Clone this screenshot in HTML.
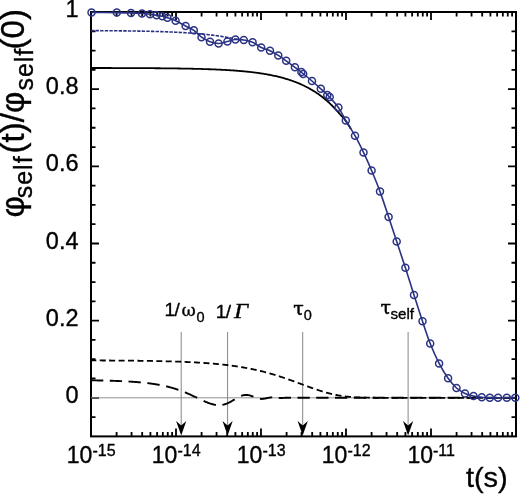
<!DOCTYPE html>
<html><head><meta charset="utf-8"><style>
html,body{margin:0;padding:0;background:#fff;}
svg{display:block;}
svg{font-family:"Liberation Sans",Arial,sans-serif;}
text{stroke:#000;stroke-width:0.35px;}
</style></head><body>
<svg width="520" height="494" viewBox="0 0 520 494">
<rect width="520" height="494" fill="#fff"/>
<path d="M91,417.09h4.5M516,417.09h-4.5M91,397.80h8M516,397.80h-8M91,378.51h4.5M516,378.51h-4.5M91,359.22h4.5M516,359.22h-4.5M91,339.93h4.5M516,339.93h-4.5M91,320.64h8M516,320.64h-8M91,301.35h4.5M516,301.35h-4.5M91,282.06h4.5M516,282.06h-4.5M91,262.77h4.5M516,262.77h-4.5M91,243.48h8M516,243.48h-8M91,224.19h4.5M516,224.19h-4.5M91,204.90h4.5M516,204.90h-4.5M91,185.61h4.5M516,185.61h-4.5M91,166.32h8M516,166.32h-8M91,147.03h4.5M516,147.03h-4.5M91,127.74h4.5M516,127.74h-4.5M91,108.45h4.5M516,108.45h-4.5M91,89.16h8M516,89.16h-8M91,69.87h4.5M516,69.87h-4.5M91,50.58h4.5M516,50.58h-4.5M91,31.29h4.5M516,31.29h-4.5M91,12.00h8M516,12.00h-8M116.59,12v4.5M116.59,436.4v-4.5M131.56,12v4.5M131.56,436.4v-4.5M142.18,12v4.5M142.18,436.4v-4.5M150.41,12v4.5M150.41,436.4v-4.5M157.14,12v4.5M157.14,436.4v-4.5M162.83,12v4.5M162.83,436.4v-4.5M167.76,12v4.5M167.76,436.4v-4.5M172.11,12v4.5M172.11,436.4v-4.5M176.00,12v8M176.00,436.4v-8M201.59,12v4.5M201.59,436.4v-4.5M216.56,12v4.5M216.56,436.4v-4.5M227.18,12v4.5M227.18,436.4v-4.5M235.41,12v4.5M235.41,436.4v-4.5M242.14,12v4.5M242.14,436.4v-4.5M247.83,12v4.5M247.83,436.4v-4.5M252.76,12v4.5M252.76,436.4v-4.5M257.11,12v4.5M257.11,436.4v-4.5M261.00,12v8M261.00,436.4v-8M286.59,12v4.5M286.59,436.4v-4.5M301.56,12v4.5M301.56,436.4v-4.5M312.18,12v4.5M312.18,436.4v-4.5M320.41,12v4.5M320.41,436.4v-4.5M327.14,12v4.5M327.14,436.4v-4.5M332.83,12v4.5M332.83,436.4v-4.5M337.76,12v4.5M337.76,436.4v-4.5M342.11,12v4.5M342.11,436.4v-4.5M346.00,12v8M346.00,436.4v-8M371.59,12v4.5M371.59,436.4v-4.5M386.56,12v4.5M386.56,436.4v-4.5M397.18,12v4.5M397.18,436.4v-4.5M405.41,12v4.5M405.41,436.4v-4.5M412.14,12v4.5M412.14,436.4v-4.5M417.83,12v4.5M417.83,436.4v-4.5M422.76,12v4.5M422.76,436.4v-4.5M427.11,12v4.5M427.11,436.4v-4.5M431.00,12v8M431.00,436.4v-8M456.59,12v4.5M456.59,436.4v-4.5M471.56,12v4.5M471.56,436.4v-4.5M482.18,12v4.5M482.18,436.4v-4.5M490.41,12v4.5M490.41,436.4v-4.5M497.14,12v4.5M497.14,436.4v-4.5M502.83,12v4.5M502.83,436.4v-4.5M507.76,12v4.5M507.76,436.4v-4.5M512.11,12v4.5M512.11,436.4v-4.5" stroke="#000" stroke-width="1.8" fill="none"/>
<rect x="91" y="12" width="425" height="424.4" fill="none" stroke="#000" stroke-width="2"/>
<line x1="91" y1="397.8" x2="516" y2="397.8" stroke="#8f8f8f" stroke-width="1"/>
<line x1="181.2" y1="332" x2="181.2" y2="426" stroke="#858585" stroke-width="1"/>
<path d="M176.1,421 L181.2,435.6 L186.3,421 L181.2,425.4 Z" fill="#000"/>
<line x1="227.6" y1="332" x2="227.6" y2="426" stroke="#858585" stroke-width="1"/>
<path d="M222.5,421 L227.6,435.6 L232.7,421 L227.6,425.4 Z" fill="#000"/>
<line x1="302.7" y1="332" x2="302.7" y2="426" stroke="#858585" stroke-width="1"/>
<path d="M297.6,421 L302.7,435.6 L307.8,421 L302.7,425.4 Z" fill="#000"/>
<line x1="408.1" y1="332" x2="408.1" y2="426" stroke="#858585" stroke-width="1"/>
<path d="M403.0,421 L408.1,435.6 L413.2,421 L408.1,425.4 Z" fill="#000"/>
<path d="M91.00,360.43 L91.50,360.43 L92.00,360.43 L92.50,360.44 L93.00,360.44 L93.50,360.44 L94.00,360.44 L94.50,360.44 L95.00,360.45 L95.50,360.45 L96.00,360.45 L96.30,360.45M99.73,360.47 L100.23,360.47 L100.73,360.47 L101.23,360.47 L101.73,360.47 L102.23,360.48 L102.73,360.48 L103.23,360.48 L103.73,360.48 L104.23,360.49 L104.73,360.49 L105.23,360.49 L105.73,360.49M109.16,360.51 L109.66,360.52 L110.16,360.52 L110.66,360.52 L111.16,360.53 L111.66,360.53 L112.16,360.53 L112.66,360.53 L113.16,360.54 L113.66,360.54 L114.16,360.54 L114.66,360.55 L115.16,360.55M118.59,360.57 L119.09,360.58 L119.59,360.58 L120.09,360.59 L120.59,360.59 L121.09,360.59 L121.59,360.60 L122.09,360.60 L122.59,360.61 L123.09,360.61 L123.59,360.61 L124.09,360.62 L124.59,360.62M128.02,360.65 L128.52,360.66 L129.02,360.66 L129.52,360.67 L130.02,360.67 L130.52,360.68 L131.02,360.68 L131.52,360.69 L132.02,360.69 L132.52,360.70 L133.02,360.70 L133.52,360.71 L134.02,360.72M137.45,360.76 L137.95,360.76 L138.45,360.77 L138.95,360.77 L139.45,360.78 L139.95,360.79 L140.45,360.79 L140.95,360.80 L141.45,360.81 L141.95,360.81 L142.45,360.82 L142.95,360.83 L143.45,360.83M146.88,360.89 L147.38,360.89 L147.88,360.90 L148.38,360.91 L148.88,360.92 L149.38,360.93 L149.88,360.93 L150.38,360.94 L150.88,360.95 L151.38,360.96 L151.88,360.97 L152.38,360.98 L152.88,360.99M156.31,361.05 L156.81,361.06 L157.31,361.07 L157.81,361.08 L158.31,361.09 L158.81,361.11 L159.31,361.12 L159.81,361.13 L160.31,361.14 L160.81,361.15 L161.31,361.16 L161.81,361.17 L162.31,361.18M165.74,361.27 L166.24,361.28 L166.74,361.29 L167.24,361.31 L167.74,361.32 L168.24,361.33 L168.74,361.35 L169.24,361.36 L169.74,361.38 L170.24,361.39 L170.74,361.41 L171.24,361.42 L171.74,361.44M175.17,361.54 L175.67,361.56 L176.17,361.58 L176.67,361.59 L177.17,361.61 L177.67,361.63 L178.17,361.65 L178.67,361.66 L179.17,361.68 L179.67,361.70 L180.17,361.72 L180.67,361.74 L181.17,361.76M184.60,361.90 L185.10,361.92 L185.60,361.94 L186.10,361.96 L186.60,361.98 L187.10,362.00 L187.60,362.03 L188.10,362.05 L188.60,362.07 L189.10,362.10 L189.60,362.12 L190.10,362.14 L190.60,362.17M194.03,362.34 L194.53,362.37 L195.03,362.40 L195.53,362.43 L196.03,362.45 L196.53,362.48 L197.03,362.51 L197.53,362.54 L198.03,362.57 L198.53,362.60 L199.03,362.63 L199.53,362.66 L200.03,362.69M203.46,362.91 L203.96,362.95 L204.46,362.98 L204.96,363.02 L205.46,363.05 L205.96,363.09 L206.46,363.12 L206.96,363.16 L207.46,363.20 L207.96,363.24 L208.46,363.27 L208.96,363.31 L209.46,363.35M212.89,363.63 L213.39,363.68 L213.89,363.72 L214.39,363.76 L214.89,363.81 L215.39,363.85 L215.89,363.90 L216.39,363.95 L216.89,363.99 L217.39,364.04 L217.89,364.09 L218.39,364.14 L218.89,364.19M222.32,364.54 L222.82,364.59 L223.32,364.65 L223.82,364.71 L224.32,364.76 L224.82,364.82 L225.32,364.88 L225.82,364.93 L226.32,364.99 L226.82,365.05 L227.32,365.11 L227.82,365.17 L228.32,365.23M231.75,365.67 L232.25,365.74 L232.75,365.81 L233.25,365.88 L233.75,365.95 L234.25,366.02 L234.75,366.09 L235.25,366.16 L235.75,366.24 L236.25,366.31 L236.75,366.38 L237.25,366.46 L237.75,366.53M241.18,367.08 L241.68,367.16 L242.18,367.25 L242.68,367.33 L243.18,367.42 L243.68,367.50 L244.18,367.59 L244.68,367.68 L245.18,367.77 L245.68,367.86 L246.18,367.95 L246.68,368.04 L247.18,368.14M250.61,368.80 L251.11,368.90 L251.61,369.00 L252.11,369.11 L252.61,369.21 L253.11,369.32 L253.61,369.42 L254.11,369.53 L254.61,369.64 L255.11,369.75 L255.61,369.86 L256.11,369.97 L256.61,370.08M260.04,370.88 L260.54,371.00 L261.04,371.12 L261.54,371.24 L262.04,371.37 L262.54,371.49 L263.04,371.62 L263.54,371.74 L264.04,371.87 L264.54,372.00 L265.04,372.13 L265.54,372.26 L266.04,372.40M269.47,373.34 L269.97,373.48 L270.47,373.62 L270.97,373.76 L271.47,373.91 L271.97,374.05 L272.47,374.20 L272.97,374.35 L273.47,374.50 L273.97,374.65 L274.47,374.80 L274.97,374.95 L275.47,375.10M278.90,376.18 L279.40,376.34 L279.90,376.50 L280.40,376.66 L280.90,376.83 L281.40,376.99 L281.90,377.16 L282.40,377.32 L282.90,377.49 L283.40,377.66 L283.90,377.83 L284.40,378.00 L284.90,378.17M288.33,379.36 L288.83,379.54 L289.33,379.71 L289.83,379.89 L290.33,380.07 L290.83,380.25 L291.33,380.43 L291.83,380.61 L292.33,380.79 L292.83,380.97 L293.33,381.15 L293.83,381.34 L294.33,381.52M297.76,382.78 L298.26,382.97 L298.76,383.15 L299.26,383.34 L299.76,383.52 L300.26,383.71 L300.76,383.89 L301.26,384.08 L301.76,384.26 L302.26,384.45 L302.76,384.64 L303.26,384.82 L303.76,385.01M307.19,386.27 L307.69,386.45 L308.19,386.64 L308.69,386.82 L309.19,387.00 L309.69,387.18 L310.19,387.36 L310.69,387.54 L311.19,387.72 L311.69,387.90 L312.19,388.07 L312.69,388.25 L313.19,388.42M316.62,389.60 L317.12,389.77 L317.62,389.94 L318.12,390.10 L318.62,390.26 L319.12,390.43 L319.62,390.59 L320.12,390.75 L320.62,390.90 L321.12,391.06 L321.62,391.21 L322.12,391.37 L322.62,391.52M326.05,392.52 L326.55,392.66 L327.05,392.79 L327.55,392.93 L328.05,393.06 L328.55,393.19 L329.05,393.32 L329.55,393.45 L330.05,393.57 L330.55,393.70 L331.05,393.82 L331.55,393.94 L332.05,394.05M335.48,394.80 L335.98,394.90 L336.48,395.00 L336.98,395.10 L337.48,395.19 L337.98,395.29 L338.48,395.38 L338.98,395.46 L339.48,395.55 L339.98,395.64 L340.48,395.72 L340.98,395.80 L341.48,395.88M344.91,396.36 L345.41,396.42 L345.91,396.48 L346.41,396.54 L346.91,396.59 L347.41,396.65 L347.91,396.70 L348.41,396.75 L348.91,396.80 L349.41,396.85 L349.91,396.90 L350.41,396.94 L350.91,396.98M354.34,397.24 L354.84,397.27 L355.34,397.30 L355.84,397.33 L356.34,397.35 L356.84,397.38 L357.34,397.40 L357.84,397.43 L358.34,397.45 L358.84,397.47 L359.34,397.49 L359.84,397.51 L360.34,397.53M363.77,397.63 L364.27,397.64 L364.77,397.66 L365.27,397.67 L365.77,397.68 L366.27,397.69 L366.77,397.69 L367.27,397.70 L367.77,397.71 L368.27,397.72 L368.77,397.72 L369.27,397.73 L369.77,397.74M373.20,397.76 L373.70,397.77 L374.20,397.77 L374.70,397.77 L375.20,397.78 L375.70,397.78 L376.20,397.78 L376.70,397.78 L377.20,397.78 L377.70,397.79 L378.20,397.79 L378.70,397.79 L379.20,397.79M382.63,397.80 L383.13,397.80 L383.63,397.80 L384.13,397.80 L384.63,397.80 L385.13,397.80 L385.63,397.80 L386.13,397.80 L386.63,397.80 L387.13,397.80 L387.63,397.80 L388.13,397.80 L388.63,397.80M392.06,397.80 L392.56,397.80 L393.06,397.80 L393.56,397.80 L394.06,397.80 L394.56,397.80 L395.06,397.80 L395.56,397.80 L396.06,397.80 L396.56,397.80 L397.06,397.80 L397.56,397.80 L398.06,397.80M401.49,397.80 L401.99,397.80 L402.49,397.80 L402.99,397.80 L403.49,397.80 L403.99,397.80 L404.49,397.80 L404.99,397.80 L405.49,397.80 L405.99,397.80 L406.49,397.80 L406.99,397.80 L407.49,397.80M410.92,397.80 L411.42,397.80 L411.92,397.80 L412.42,397.80 L412.92,397.80 L413.42,397.80 L413.92,397.80 L414.42,397.80 L414.92,397.80 L415.42,397.80 L415.92,397.80 L416.42,397.80 L416.92,397.80M420.35,397.80 L420.85,397.80 L421.35,397.80 L421.85,397.80 L422.35,397.80 L422.85,397.80 L423.35,397.80 L423.85,397.80 L424.35,397.80 L424.85,397.80 L425.35,397.80 L425.85,397.80 L426.35,397.80M429.78,397.80 L430.28,397.80 L430.78,397.80 L431.28,397.80 L431.78,397.80 L432.28,397.80 L432.78,397.80 L433.28,397.80 L433.78,397.80 L434.28,397.80 L434.78,397.80 L435.28,397.80 L435.78,397.80M439.21,397.80 L439.71,397.80 L440.21,397.80 L440.71,397.80 L441.21,397.80 L441.71,397.80 L442.21,397.80 L442.71,397.80 L443.21,397.80 L443.71,397.80 L444.21,397.80 L444.71,397.80 L445.21,397.80M448.64,397.80 L449.14,397.80 L449.64,397.80 L450.14,397.80 L450.64,397.80 L451.14,397.80 L451.64,397.80 L452.14,397.80 L452.64,397.80 L453.14,397.80 L453.64,397.80 L454.14,397.80 L454.64,397.80M458.07,397.80 L458.57,397.80 L459.07,397.80 L459.57,397.80 L460.07,397.80 L460.57,397.80 L461.07,397.80 L461.57,397.80 L462.07,397.80 L462.57,397.80 L463.07,397.80 L463.57,397.80 L464.07,397.80M467.50,397.80 L468.00,397.80 L468.50,397.80 L469.00,397.80 L469.50,397.80 L470.00,397.80 L470.50,397.80 L471.00,397.80 L471.50,397.80 L472.00,397.80 L472.50,397.80 L473.00,397.80 L473.50,397.80M476.93,397.80 L477.43,397.80 L477.93,397.80 L478.43,397.80 L478.93,397.80 L479.43,397.80 L479.93,397.80 L480.43,397.80 L480.93,397.80 L481.43,397.80 L481.93,397.80 L482.43,397.80 L482.93,397.80M486.36,397.80 L486.86,397.80 L487.36,397.80 L487.86,397.80 L488.36,397.80 L488.86,397.80 L489.36,397.80 L489.86,397.80 L490.36,397.80 L490.86,397.80 L491.36,397.80 L491.86,397.80 L492.36,397.80M495.79,397.80 L496.29,397.80 L496.79,397.80 L497.29,397.80 L497.79,397.80 L498.29,397.80 L498.79,397.80 L499.29,397.80 L499.79,397.80 L500.29,397.80 L500.79,397.80 L501.29,397.80 L501.79,397.80M505.22,397.80 L505.72,397.80 L506.22,397.80 L506.72,397.80 L507.22,397.80 L507.72,397.80 L508.22,397.80 L508.72,397.80 L509.22,397.80 L509.72,397.80 L510.22,397.80 L510.72,397.80 L511.22,397.80M514.65,397.80 L515.15,397.80 L515.65,397.80 L516.00,397.80" fill="none" stroke="#000" stroke-width="1.8"/>
<path d="M91.00,380.31 L91.50,380.32 L92.00,380.33 L92.50,380.33 L93.00,380.34 L93.50,380.35 L94.00,380.36 L94.50,380.37 L95.00,380.38 L95.50,380.39 L96.00,380.40 L96.50,380.41 L97.00,380.42 L97.50,380.43 L98.00,380.44 L98.50,380.45 L99.00,380.46 L99.50,380.47 L100.00,380.48 L100.50,380.49 L101.00,380.50 L101.50,380.51 L102.00,380.52 L102.50,380.53 L103.00,380.54 L103.30,380.55M109.77,380.72 L110.27,380.74 L110.77,380.75 L111.27,380.77 L111.77,380.79 L112.27,380.80 L112.77,380.82 L113.27,380.84 L113.77,380.85 L114.27,380.87 L114.77,380.89 L115.27,380.91 L115.77,380.92 L116.27,380.94 L116.77,380.96 L117.27,380.98 L117.77,381.00 L118.27,381.02 L118.77,381.04 L119.27,381.06 L119.77,381.08 L120.27,381.10 L120.77,381.13 L121.27,381.15 L121.77,381.17 L122.07,381.18M128.54,381.52 L129.04,381.55 L129.54,381.58 L130.04,381.61 L130.54,381.64 L131.04,381.67 L131.54,381.71 L132.04,381.74 L132.54,381.77 L133.04,381.81 L133.54,381.84 L134.04,381.88 L134.54,381.91 L135.04,381.95 L135.54,381.99 L136.04,382.03 L136.54,382.07 L137.04,382.11 L137.54,382.15 L138.04,382.19 L138.54,382.23 L139.04,382.27 L139.54,382.32 L140.04,382.36 L140.54,382.41 L140.84,382.43M147.31,383.11 L147.81,383.17 L148.31,383.23 L148.81,383.29 L149.31,383.36 L149.81,383.42 L150.31,383.49 L150.81,383.55 L151.31,383.62 L151.81,383.69 L152.31,383.76 L152.81,383.83 L153.31,383.90 L153.81,383.98 L154.31,384.05 L154.81,384.13 L155.31,384.21 L155.81,384.29 L156.31,384.37 L156.81,384.45 L157.31,384.54 L157.81,384.62 L158.31,384.71 L158.81,384.80 L159.31,384.89 L159.61,384.95M166.08,386.30 L166.58,386.42 L167.08,386.54 L167.58,386.66 L168.08,386.78 L168.58,386.91 L169.08,387.04 L169.58,387.17 L170.08,387.30 L170.58,387.43 L171.08,387.57 L171.58,387.71 L172.08,387.85 L172.58,388.00 L173.08,388.14 L173.58,388.29 L174.08,388.44 L174.58,388.59 L175.08,388.75 L175.58,388.91 L176.08,389.07 L176.58,389.23 L177.08,389.40 L177.58,389.56 L178.08,389.73 L178.38,389.84M184.85,392.28 L185.35,392.49 L185.85,392.69 L186.35,392.90 L186.85,393.12 L187.35,393.33 L187.85,393.55 L188.35,393.76 L188.85,393.99 L189.35,394.21 L189.85,394.43 L190.35,394.66 L190.85,394.89 L191.35,395.12 L191.85,395.35 L192.35,395.58 L192.85,395.81 L193.35,396.05 L193.85,396.29 L194.35,396.52 L194.85,396.76 L195.35,397.00 L195.85,397.24 L196.35,397.48 L196.85,397.72 L197.15,397.87M203.62,400.93 L204.12,401.16 L204.62,401.38 L205.12,401.60 L205.62,401.82 L206.12,402.03 L206.62,402.23 L207.12,402.44 L207.62,402.64 L208.12,402.83 L208.62,403.02 L209.12,403.20 L209.62,403.38 L210.12,403.55 L210.62,403.71 L211.12,403.87 L211.62,404.01 L212.12,404.16 L212.62,404.29 L213.12,404.41 L213.62,404.53 L214.12,404.64 L214.62,404.73 L215.12,404.82 L215.62,404.90 L215.92,404.94M222.39,404.83 L222.89,404.74 L223.39,404.63 L223.89,404.51 L224.39,404.37 L224.89,404.22 L225.39,404.06 L225.89,403.89 L226.39,403.71 L226.89,403.51 L227.39,403.31 L227.89,403.09 L228.39,402.86 L228.89,402.62 L229.39,402.37 L229.89,402.12 L230.39,401.85 L230.89,401.58 L231.39,401.30 L231.89,401.01 L232.39,400.72 L232.89,400.43 L233.39,400.13 L233.89,399.83 L234.39,399.53 L234.69,399.34M241.16,395.93 L241.66,395.74 L242.16,395.58 L242.66,395.43 L243.16,395.29 L243.66,395.18 L244.16,395.09 L244.66,395.02 L245.16,394.96 L245.66,394.93 L246.16,394.92 L246.66,394.93 L247.16,394.96 L247.66,395.01 L248.16,395.08 L248.66,395.17 L249.16,395.28 L249.66,395.40 L250.16,395.54 L250.66,395.70 L251.16,395.86 L251.66,396.04 L252.16,396.23 L252.66,396.42 L253.16,396.62 L253.46,396.74M259.93,398.81 L260.43,398.87 L260.93,398.91 L261.43,398.93 L261.93,398.93 L262.43,398.91 L262.93,398.87 L263.43,398.82 L263.93,398.75 L264.43,398.67 L264.93,398.58 L265.43,398.48 L265.93,398.37 L266.43,398.26 L266.93,398.15 L267.43,398.03 L267.93,397.92 L268.43,397.82 L268.93,397.72 L269.43,397.63 L269.93,397.55 L270.43,397.49 L270.93,397.43 L271.43,397.39 L271.93,397.37 L272.23,397.36M278.70,397.88 L279.20,397.92 L279.70,397.94 L280.20,397.96 L280.70,397.97 L281.20,397.97 L281.70,397.97 L282.20,397.95 L282.70,397.93 L283.20,397.91 L283.70,397.88 L284.20,397.85 L284.70,397.82 L285.20,397.80 L285.70,397.78 L286.20,397.76 L286.70,397.74 L287.20,397.74 L287.70,397.73 L288.20,397.73 L288.70,397.74 L289.20,397.75 L289.70,397.76 L290.20,397.77 L290.70,397.78 L291.00,397.79M297.47,397.79 L297.97,397.79 L298.47,397.79 L298.97,397.79 L299.47,397.79 L299.97,397.79 L300.47,397.80 L300.97,397.80 L301.47,397.80 L301.97,397.80 L302.47,397.80 L302.97,397.80 L303.47,397.80 L303.97,397.80 L304.47,397.80 L304.97,397.80 L305.47,397.80 L305.97,397.80 L306.47,397.80 L306.97,397.80 L307.47,397.80 L307.97,397.80 L308.47,397.80 L308.97,397.80 L309.47,397.80 L309.77,397.80M316.24,397.80 L316.74,397.80 L317.24,397.80 L317.74,397.80 L318.24,397.80 L318.74,397.80 L319.24,397.80 L319.74,397.80 L320.24,397.80 L320.74,397.80 L321.24,397.80 L321.74,397.80 L322.24,397.80 L322.74,397.80 L323.24,397.80 L323.74,397.80 L324.24,397.80 L324.74,397.80 L325.24,397.80 L325.74,397.80 L326.24,397.80 L326.74,397.80 L327.24,397.80 L327.74,397.80 L328.24,397.80 L328.54,397.80M335.01,397.80 L335.51,397.80 L336.01,397.80 L336.51,397.80 L337.01,397.80 L337.51,397.80 L338.01,397.80 L338.51,397.80 L339.01,397.80 L339.51,397.80 L340.01,397.80 L340.51,397.80 L341.01,397.80 L341.51,397.80 L342.01,397.80 L342.51,397.80 L343.01,397.80 L343.51,397.80 L344.01,397.80 L344.51,397.80 L345.01,397.80 L345.51,397.80 L346.01,397.80 L346.51,397.80 L347.01,397.80 L347.31,397.80M353.78,397.80 L354.28,397.80 L354.78,397.80 L355.28,397.80 L355.78,397.80 L356.28,397.80 L356.78,397.80 L357.28,397.80 L357.78,397.80 L358.28,397.80 L358.78,397.80 L359.28,397.80 L359.78,397.80 L360.28,397.80 L360.78,397.80 L361.28,397.80 L361.78,397.80 L362.28,397.80 L362.78,397.80 L363.28,397.80 L363.78,397.80 L364.28,397.80 L364.78,397.80 L365.28,397.80 L365.78,397.80 L366.08,397.80M372.55,397.80 L373.05,397.80 L373.55,397.80 L374.05,397.80 L374.55,397.80 L375.05,397.80 L375.55,397.80 L376.05,397.80 L376.55,397.80 L377.05,397.80 L377.55,397.80 L378.05,397.80 L378.55,397.80 L379.05,397.80 L379.55,397.80 L380.05,397.80 L380.55,397.80 L381.05,397.80 L381.55,397.80 L382.05,397.80 L382.55,397.80 L383.05,397.80 L383.55,397.80 L384.05,397.80 L384.55,397.80 L384.85,397.80M391.32,397.80 L391.82,397.80 L392.32,397.80 L392.82,397.80 L393.32,397.80 L393.82,397.80 L394.32,397.80 L394.82,397.80 L395.32,397.80 L395.82,397.80 L396.32,397.80 L396.82,397.80 L397.32,397.80 L397.82,397.80 L398.32,397.80 L398.82,397.80 L399.32,397.80 L399.82,397.80 L400.32,397.80 L400.82,397.80 L401.32,397.80 L401.82,397.80 L402.32,397.80 L402.82,397.80 L403.32,397.80 L403.62,397.80M410.09,397.80 L410.59,397.80 L411.09,397.80 L411.59,397.80 L412.09,397.80 L412.59,397.80 L413.09,397.80 L413.59,397.80 L414.09,397.80 L414.59,397.80 L415.09,397.80 L415.59,397.80 L416.09,397.80 L416.59,397.80 L417.09,397.80 L417.59,397.80 L418.09,397.80 L418.59,397.80 L419.09,397.80 L419.59,397.80 L420.09,397.80 L420.59,397.80 L421.09,397.80 L421.59,397.80 L422.09,397.80 L422.39,397.80M428.86,397.80 L429.36,397.80 L429.86,397.80 L430.36,397.80 L430.86,397.80 L431.36,397.80 L431.86,397.80 L432.36,397.80 L432.86,397.80 L433.36,397.80 L433.86,397.80 L434.36,397.80 L434.86,397.80 L435.36,397.80 L435.86,397.80 L436.36,397.80 L436.86,397.80 L437.36,397.80 L437.86,397.80 L438.36,397.80 L438.86,397.80 L439.36,397.80 L439.86,397.80 L440.36,397.80 L440.86,397.80 L441.16,397.80M447.63,397.80 L448.13,397.80 L448.63,397.80 L449.13,397.80 L449.63,397.80 L450.13,397.80 L450.63,397.80 L451.13,397.80 L451.63,397.80 L452.13,397.80 L452.63,397.80 L453.13,397.80 L453.63,397.80 L454.13,397.80 L454.63,397.80 L455.13,397.80 L455.63,397.80 L456.13,397.80 L456.63,397.80 L457.13,397.80 L457.63,397.80 L458.13,397.80 L458.63,397.80 L459.13,397.80 L459.63,397.80 L459.93,397.80M466.40,397.80 L466.90,397.80 L467.40,397.80 L467.90,397.80 L468.40,397.80 L468.90,397.80 L469.40,397.80 L469.90,397.80 L470.40,397.80 L470.90,397.80 L471.40,397.80 L471.90,397.80 L472.40,397.80 L472.90,397.80 L473.40,397.80 L473.90,397.80 L474.40,397.80 L474.90,397.80 L475.40,397.80 L475.90,397.80 L476.40,397.80 L476.90,397.80 L477.40,397.80 L477.90,397.80 L478.40,397.80 L478.70,397.80M485.17,397.80 L485.67,397.80 L486.17,397.80 L486.67,397.80 L487.17,397.80 L487.67,397.80 L488.17,397.80 L488.67,397.80 L489.17,397.80 L489.67,397.80 L490.17,397.80 L490.67,397.80 L491.17,397.80 L491.67,397.80 L492.17,397.80 L492.67,397.80 L493.17,397.80 L493.67,397.80 L494.17,397.80 L494.67,397.80 L495.17,397.80 L495.67,397.80 L496.17,397.80 L496.67,397.80 L497.17,397.80 L497.47,397.80M503.94,397.80 L504.44,397.80 L504.94,397.80 L505.44,397.80 L505.94,397.80 L506.44,397.80 L506.94,397.80 L507.44,397.80 L507.94,397.80 L508.44,397.80 L508.94,397.80 L509.44,397.80 L509.94,397.80 L510.44,397.80 L510.94,397.80 L511.44,397.80 L511.94,397.80 L512.44,397.80 L512.94,397.80 L513.44,397.80 L513.94,397.80 L514.44,397.80 L514.94,397.80 L515.44,397.80 L515.94,397.80 L516.00,397.80" fill="none" stroke="#000" stroke-width="1.9"/>
<path d="M91.00,67.99 L92.00,67.99 L93.00,67.99 L94.00,67.99 L95.00,67.99 L96.00,68.00 L97.00,68.00 L98.00,68.00 L99.00,68.00 L100.00,68.00 L101.00,68.00 L102.00,68.01 L103.00,68.01 L104.00,68.01 L105.00,68.01 L106.00,68.01 L107.00,68.02 L108.00,68.02 L109.00,68.02 L110.00,68.02 L111.00,68.02 L112.00,68.03 L113.00,68.03 L114.00,68.03 L115.00,68.03 L116.00,68.04 L117.00,68.04 L118.00,68.04 L119.00,68.05 L120.00,68.05 L121.00,68.05 L122.00,68.05 L123.00,68.06 L124.00,68.06 L125.00,68.06 L126.00,68.07 L127.00,68.07 L128.00,68.08 L129.00,68.08 L130.00,68.08 L131.00,68.09 L132.00,68.09 L133.00,68.10 L134.00,68.10 L135.00,68.10 L136.00,68.11 L137.00,68.11 L138.00,68.12 L139.00,68.12 L140.00,68.13 L141.00,68.13 L142.00,68.14 L143.00,68.15 L144.00,68.15 L145.00,68.16 L146.00,68.16 L147.00,68.17 L148.00,68.18 L149.00,68.18 L150.00,68.19 L151.00,68.20 L152.00,68.20 L153.00,68.21 L154.00,68.22 L155.00,68.23 L156.00,68.23 L157.00,68.24 L158.00,68.25 L159.00,68.26 L160.00,68.27 L161.00,68.28 L162.00,68.29 L163.00,68.30 L164.00,68.31 L165.00,68.32 L166.00,68.33 L167.00,68.34 L168.00,68.35 L169.00,68.36 L170.00,68.38 L171.00,68.39 L172.00,68.40 L173.00,68.41 L174.00,68.43 L175.00,68.44 L176.00,68.45 L177.00,68.47 L178.00,68.48 L179.00,68.50 L180.00,68.51 L181.00,68.53 L182.00,68.55 L183.00,68.56 L184.00,68.58 L185.00,68.60 L186.00,68.62 L187.00,68.64 L188.00,68.66 L189.00,68.68 L190.00,68.70 L191.00,68.72 L192.00,68.74 L193.00,68.77 L194.00,68.79 L195.00,68.81 L196.00,68.84 L197.00,68.86 L198.00,68.89 L199.00,68.92 L200.00,68.94 L201.00,68.97 L202.00,69.00 L203.00,69.03 L204.00,69.06 L205.00,69.09 L206.00,69.13 L207.00,69.16 L208.00,69.19 L209.00,69.23 L210.00,69.26 L211.00,69.30 L212.00,69.34 L213.00,69.38 L214.00,69.42 L215.00,69.46 L216.00,69.51 L217.00,69.55 L218.00,69.59 L219.00,69.64 L220.00,69.69 L221.00,69.74 L222.00,69.79 L223.00,69.84 L224.00,69.90 L225.00,69.95 L226.00,70.01 L227.00,70.07 L228.00,70.13 L229.00,70.19 L230.00,70.25 L231.00,70.32 L232.00,70.38 L233.00,70.45 L234.00,70.52 L235.00,70.59 L236.00,70.67 L237.00,70.75 L238.00,70.83 L239.00,70.91 L240.00,70.99 L241.00,71.08 L242.00,71.16 L243.00,71.25 L244.00,71.35 L245.00,71.44 L246.00,71.54 L247.00,71.64 L248.00,71.75 L249.00,71.86 L250.00,71.97 L251.00,72.08 L252.00,72.19 L253.00,72.31 L254.00,72.44 L255.00,72.56 L256.00,72.69 L257.00,72.83 L258.00,72.96 L259.00,73.10 L260.00,73.25 L261.00,73.40 L262.00,73.55 L263.00,73.71 L264.00,73.87 L265.00,74.04 L266.00,74.21 L267.00,74.38 L268.00,74.56 L269.00,74.75 L270.00,74.94 L271.00,75.14 L272.00,75.34 L273.00,75.54 L274.00,75.76 L275.00,75.98 L276.00,76.20 L277.00,76.43 L278.00,76.67 L279.00,76.91 L280.00,77.16 L281.00,77.42 L282.00,77.68 L283.00,77.95 L284.00,78.23 L285.00,78.52 L286.00,78.81 L287.00,79.12 L288.00,79.43 L289.00,79.75 L290.00,80.07 L291.00,80.41 L292.00,80.76 L293.00,81.11 L294.00,81.48 L295.00,81.85 L296.00,82.24 L297.00,82.63 L298.00,83.04 L299.00,83.45 L300.00,83.88 L301.00,84.32 L302.00,84.77 L303.00,85.24 L304.00,85.71 L305.00,86.20 L306.00,86.70 L307.00,87.22 L308.00,87.75 L309.00,88.29 L310.00,88.85 L311.00,89.42 L312.00,90.01 L313.00,90.61 L314.00,91.23 L315.00,91.86 L316.00,92.51 L317.00,93.18 L318.00,93.86 L319.00,94.57 L320.00,95.29 L321.00,96.03 L322.00,96.79 L323.00,97.57 L324.00,98.36 L325.00,99.18 L326.00,100.02 L327.00,100.88 L328.00,101.77 L329.00,102.67 L330.00,103.60 L331.00,104.55 L332.00,105.52 L333.00,106.52 L334.00,107.55 L335.00,108.59 L336.00,109.67 L337.00,110.77 L338.00,111.90 L339.00,113.05 L340.00,114.23 L341.00,115.44 L342.00,116.29 L343.00,117.33 L344.00,118.55 L345.00,119.89 L346.00,121.31 L347.00,122.78 L348.00,124.28 L349.00,125.81 L350.00,127.40 L351.00,128.99" fill="none" stroke="#000" stroke-width="1.8"/>
<path d="M91.00,30.62 L91.50,30.62 L92.00,30.62 L92.50,30.63 L93.00,30.63 L93.50,30.63 L94.00,30.64 L94.30,30.64M95.52,30.64 L96.02,30.65 L96.52,30.65 L97.02,30.65 L97.52,30.65 L98.02,30.66 L98.52,30.66 L98.92,30.66M100.14,30.67 L100.64,30.67 L101.14,30.68 L101.64,30.68 L102.14,30.68 L102.64,30.69 L103.14,30.69 L103.54,30.69M104.76,30.70 L105.26,30.70 L105.76,30.71 L106.26,30.71 L106.76,30.72 L107.26,30.72 L107.76,30.72 L108.16,30.73M109.38,30.74 L109.88,30.74 L110.38,30.74 L110.88,30.75 L111.38,30.75 L111.88,30.76 L112.38,30.76 L112.78,30.76M114.00,30.78 L114.50,30.78 L115.00,30.78 L115.50,30.79 L116.00,30.79 L116.50,30.80 L117.00,30.80 L117.40,30.81M118.62,30.82 L119.12,30.82 L119.62,30.83 L120.12,30.84 L120.62,30.84 L121.12,30.85 L121.62,30.85 L122.02,30.86M123.24,30.87 L123.74,30.88 L124.24,30.88 L124.74,30.89 L125.24,30.89 L125.74,30.90 L126.24,30.91 L126.64,30.91M127.86,30.93 L128.36,30.93 L128.86,30.94 L129.36,30.95 L129.86,30.95 L130.36,30.96 L130.86,30.97 L131.26,30.97M132.48,30.99 L132.98,31.00 L133.48,31.01 L133.98,31.01 L134.48,31.02 L134.98,31.03 L135.48,31.04 L135.88,31.05M137.10,31.07 L137.60,31.07 L138.10,31.08 L138.60,31.09 L139.10,31.10 L139.60,31.11 L140.10,31.12 L140.50,31.13M141.72,31.15 L142.22,31.16 L142.72,31.17 L143.22,31.18 L143.72,31.19 L144.22,31.20 L144.72,31.21 L145.12,31.22M146.34,31.24 L146.84,31.25 L147.34,31.26 L147.84,31.28 L148.34,31.29 L148.84,31.30 L149.34,31.31 L149.74,31.32M150.96,31.35 L151.46,31.36 L151.96,31.37 L152.46,31.39 L152.96,31.40 L153.46,31.41 L153.96,31.43 L154.36,31.44M155.58,31.47 L156.08,31.48 L156.58,31.50 L157.08,31.51 L157.58,31.53 L158.08,31.54 L158.58,31.56 L158.98,31.57M160.20,31.61 L160.70,31.62 L161.20,31.64 L161.70,31.66 L162.20,31.67 L162.70,31.69 L163.20,31.71 L163.60,31.72M164.82,31.76 L165.32,31.78 L165.82,31.80 L166.32,31.82 L166.82,31.83 L167.32,31.85 L167.82,31.87 L168.22,31.89M169.44,31.94 L169.94,31.96 L170.44,31.98 L170.94,32.00 L171.44,32.02 L171.94,32.04 L172.44,32.06 L172.84,32.08M174.06,32.13 L174.56,32.16 L175.06,32.18 L175.56,32.20 L176.06,32.23 L176.56,32.25 L177.06,32.28 L177.46,32.30M178.68,32.36 L179.18,32.38 L179.68,32.41 L180.18,32.44 L180.68,32.46 L181.18,32.49 L181.68,32.52 L182.08,32.54M183.30,32.61 L183.80,32.64 L184.30,32.67 L184.80,32.70 L185.30,32.73 L185.80,32.76 L186.30,32.79 L186.70,32.82M187.92,32.90 L188.42,32.93 L188.92,32.96 L189.42,33.00 L189.92,33.03 L190.42,33.07 L190.92,33.10 L191.32,33.13M192.54,33.22 L193.04,33.26 L193.54,33.30 L194.04,33.33 L194.54,33.37 L195.04,33.41 L195.54,33.45 L195.94,33.48M197.16,33.58 L197.66,33.63 L198.16,33.67 L198.66,33.71 L199.16,33.76 L199.66,33.80 L200.16,33.85 L200.56,33.88M201.78,34.00 L202.28,34.04 L202.78,34.09 L203.28,34.14 L203.78,34.19 L204.28,34.24 L204.78,34.29 L205.18,34.33M206.40,34.46 L206.90,34.51 L207.40,34.57 L207.90,34.62 L208.40,34.68 L208.90,34.73 L209.40,34.79 L209.80,34.84M211.02,34.98 L211.52,35.04 L212.02,35.10 L212.52,35.16 L213.02,35.23 L213.52,35.29 L214.02,35.35 L214.42,35.41M215.64,35.57 L216.14,35.63 L216.64,35.70 L217.14,35.77 L217.64,35.84 L218.14,35.91 L218.64,35.99 L219.04,36.05M220.26,36.23 L220.76,36.30 L221.26,36.38 L221.76,36.46 L222.26,36.54 L222.76,36.62 L223.26,36.70 L223.66,36.76M224.88,36.97 L225.38,37.05 L225.88,37.14 L226.38,37.23 L226.88,37.32 L227.38,37.41 L227.88,37.50 L228.28,37.57M229.50,37.80 L230.00,37.90 L230.50,37.99 L231.00,38.09 L231.50,38.19 L232.00,38.29 L232.50,38.39 L232.90,38.47M234.12,38.73 L234.62,38.84 L235.12,38.95 L235.62,39.06 L236.12,39.17 L236.62,39.28 L237.12,39.39 L237.52,39.49M238.74,39.77 L239.24,39.89 L239.74,40.01 L240.00,40.08" fill="none" stroke="#2a3283" stroke-width="1.6"/>
<path d="M91.50,12.40 C95.72,12.43 110.22,12.52 116.80,12.60 C123.38,12.68 126.80,12.75 131.00,12.90 C135.20,13.05 138.83,13.27 142.00,13.50 C145.17,13.73 147.57,14.00 150.00,14.30 C152.43,14.60 154.55,14.97 156.60,15.30 C158.65,15.63 160.50,15.88 162.30,16.30 C164.10,16.72 165.18,17.07 167.40,17.80 C169.62,18.53 172.57,19.33 175.60,20.70 C178.63,22.07 182.57,24.40 185.60,26.00 C188.63,27.60 191.15,28.43 193.80,30.30 C196.45,32.17 198.80,35.28 201.50,37.20 C204.20,39.12 207.15,40.75 210.00,41.80 C212.85,42.85 215.70,43.55 218.60,43.50 C221.50,43.45 224.60,42.17 227.40,41.50 C230.20,40.83 232.67,39.75 235.40,39.50 C238.13,39.25 240.93,39.53 243.80,40.00 C246.67,40.47 249.70,41.05 252.60,42.30 C255.50,43.55 258.30,46.08 261.20,47.50 C264.10,48.92 267.15,49.48 270.00,50.80 C272.85,52.12 275.60,53.73 278.30,55.40 C281.00,57.07 283.43,58.82 286.20,60.80 C288.97,62.78 292.22,65.27 294.90,67.30 C297.58,69.33 299.45,70.72 302.30,73.00 C305.15,75.28 308.92,78.37 312.00,81.00 C315.08,83.63 318.05,86.30 320.80,88.80 C323.55,91.30 325.57,92.88 328.50,96.00 C331.43,99.12 335.52,103.40 338.40,107.50 C341.28,111.60 343.03,115.90 345.80,120.60 C348.57,125.30 352.05,130.40 355.00,135.70 C357.95,141.00 360.73,146.60 363.50,152.40 C366.27,158.20 368.85,163.97 371.60,170.50 C374.35,177.03 377.17,183.87 380.00,191.60 C382.83,199.33 385.82,208.58 388.60,216.90 C391.38,225.22 393.90,233.02 396.70,241.50 C399.50,249.98 402.52,258.88 405.40,267.80 C408.28,276.72 411.15,286.08 414.00,295.00 C416.85,303.92 419.80,313.22 422.50,321.30 C425.20,329.38 427.43,336.48 430.20,343.50 C432.97,350.52 436.12,357.60 439.10,363.40 C442.08,369.20 445.20,374.20 448.10,378.30 C451.00,382.40 453.68,385.47 456.50,388.00 C459.32,390.53 462.17,392.15 465.00,393.50 C467.83,394.85 470.70,395.48 473.50,396.10 C476.30,396.72 479.08,396.92 481.80,397.20 C484.52,397.48 487.10,397.70 489.80,397.80 C492.50,397.90 495.17,397.80 498.00,397.80 C500.83,397.80 503.92,397.80 506.80,397.80 C509.68,397.80 513.88,397.80 515.30,397.80" fill="none" stroke="#2a3283" stroke-width="1.6"/>
<circle cx="91.5" cy="12.4" r="3.5" fill="none" stroke="#2a3283" stroke-width="1.5"/>
<circle cx="116.8" cy="12.6" r="3.5" fill="none" stroke="#2a3283" stroke-width="1.5"/>
<circle cx="131" cy="12.9" r="3.5" fill="none" stroke="#2a3283" stroke-width="1.5"/>
<circle cx="142" cy="13.5" r="3.5" fill="none" stroke="#2a3283" stroke-width="1.5"/>
<circle cx="150" cy="14.3" r="3.5" fill="none" stroke="#2a3283" stroke-width="1.5"/>
<circle cx="156.6" cy="15.3" r="3.5" fill="none" stroke="#2a3283" stroke-width="1.5"/>
<circle cx="162.3" cy="16.3" r="3.5" fill="none" stroke="#2a3283" stroke-width="1.5"/>
<circle cx="167.4" cy="17.8" r="3.5" fill="none" stroke="#2a3283" stroke-width="1.5"/>
<circle cx="175.6" cy="20.7" r="3.5" fill="none" stroke="#2a3283" stroke-width="1.5"/>
<circle cx="185.6" cy="26" r="3.5" fill="none" stroke="#2a3283" stroke-width="1.5"/>
<circle cx="193.8" cy="30.3" r="3.5" fill="none" stroke="#2a3283" stroke-width="1.5"/>
<circle cx="201.5" cy="37.2" r="3.5" fill="none" stroke="#2a3283" stroke-width="1.5"/>
<circle cx="210" cy="41.8" r="3.5" fill="none" stroke="#2a3283" stroke-width="1.5"/>
<circle cx="218.6" cy="43.5" r="3.5" fill="none" stroke="#2a3283" stroke-width="1.5"/>
<circle cx="227.4" cy="41.5" r="3.5" fill="none" stroke="#2a3283" stroke-width="1.5"/>
<circle cx="235.4" cy="39.5" r="3.5" fill="none" stroke="#2a3283" stroke-width="1.5"/>
<circle cx="243.8" cy="40" r="3.5" fill="none" stroke="#2a3283" stroke-width="1.5"/>
<circle cx="252.6" cy="42.3" r="3.5" fill="none" stroke="#2a3283" stroke-width="1.5"/>
<circle cx="261.2" cy="47.5" r="3.5" fill="none" stroke="#2a3283" stroke-width="1.5"/>
<circle cx="270" cy="50.8" r="3.5" fill="none" stroke="#2a3283" stroke-width="1.5"/>
<circle cx="278.3" cy="55.4" r="3.5" fill="none" stroke="#2a3283" stroke-width="1.5"/>
<circle cx="286.2" cy="60.8" r="3.5" fill="none" stroke="#2a3283" stroke-width="1.5"/>
<circle cx="294.9" cy="67.3" r="3.5" fill="none" stroke="#2a3283" stroke-width="1.5"/>
<circle cx="301.4" cy="72" r="3.5" fill="none" stroke="#2a3283" stroke-width="1.5"/>
<circle cx="303.2" cy="74" r="3.5" fill="none" stroke="#2a3283" stroke-width="1.5"/>
<circle cx="312" cy="81" r="3.5" fill="none" stroke="#2a3283" stroke-width="1.5"/>
<circle cx="320.8" cy="88.8" r="3.5" fill="none" stroke="#2a3283" stroke-width="1.5"/>
<circle cx="327.3" cy="95" r="3.5" fill="none" stroke="#2a3283" stroke-width="1.5"/>
<circle cx="329.7" cy="97" r="3.5" fill="none" stroke="#2a3283" stroke-width="1.5"/>
<circle cx="338.4" cy="107.5" r="3.5" fill="none" stroke="#2a3283" stroke-width="1.5"/>
<circle cx="345.8" cy="120.6" r="3.5" fill="none" stroke="#2a3283" stroke-width="1.5"/>
<circle cx="355" cy="135.7" r="3.5" fill="none" stroke="#2a3283" stroke-width="1.5"/>
<circle cx="363.5" cy="152.4" r="3.5" fill="none" stroke="#2a3283" stroke-width="1.5"/>
<circle cx="371.6" cy="170.5" r="3.5" fill="none" stroke="#2a3283" stroke-width="1.5"/>
<circle cx="380" cy="191.6" r="3.5" fill="none" stroke="#2a3283" stroke-width="1.5"/>
<circle cx="388.6" cy="216.9" r="3.5" fill="none" stroke="#2a3283" stroke-width="1.5"/>
<circle cx="396.7" cy="241.5" r="3.5" fill="none" stroke="#2a3283" stroke-width="1.5"/>
<circle cx="405.4" cy="267.8" r="3.5" fill="none" stroke="#2a3283" stroke-width="1.5"/>
<circle cx="414" cy="295" r="3.5" fill="none" stroke="#2a3283" stroke-width="1.5"/>
<circle cx="422.5" cy="321.3" r="3.5" fill="none" stroke="#2a3283" stroke-width="1.5"/>
<circle cx="430.2" cy="343.5" r="3.5" fill="none" stroke="#2a3283" stroke-width="1.5"/>
<circle cx="439.1" cy="363.4" r="3.5" fill="none" stroke="#2a3283" stroke-width="1.5"/>
<circle cx="448.1" cy="378.3" r="3.5" fill="none" stroke="#2a3283" stroke-width="1.5"/>
<circle cx="456.5" cy="388" r="3.5" fill="none" stroke="#2a3283" stroke-width="1.5"/>
<circle cx="465" cy="393.5" r="3.5" fill="none" stroke="#2a3283" stroke-width="1.5"/>
<circle cx="473.5" cy="396.1" r="3.5" fill="none" stroke="#2a3283" stroke-width="1.5"/>
<circle cx="481.8" cy="397.2" r="3.5" fill="none" stroke="#2a3283" stroke-width="1.5"/>
<circle cx="489.8" cy="397.8" r="3.5" fill="none" stroke="#2a3283" stroke-width="1.5"/>
<circle cx="498" cy="397.8" r="3.5" fill="none" stroke="#2a3283" stroke-width="1.5"/>
<circle cx="506.8" cy="397.8" r="3.5" fill="none" stroke="#2a3283" stroke-width="1.5"/>
<circle cx="515.3" cy="397.8" r="3.5" fill="none" stroke="#2a3283" stroke-width="1.5"/>
<g font-size="23.5">
<text x="78.5" y="17.0" text-anchor="end">1</text>
<text x="78.5" y="94.2" text-anchor="end">0.8</text>
<text x="78.5" y="171.3" text-anchor="end">0.6</text>
<text x="78.5" y="248.5" text-anchor="end">0.4</text>
<text x="78.5" y="325.6" text-anchor="end">0.2</text>
<text x="78.5" y="402.8" text-anchor="end">0</text>
</g>
<g font-size="23">
<text x="91.2" y="463" text-anchor="middle">10<tspan font-size="16" dy="-6.9">-15</tspan></text>
<text x="176.2" y="463" text-anchor="middle">10<tspan font-size="16" dy="-6.9">-14</tspan></text>
<text x="261.2" y="463" text-anchor="middle">10<tspan font-size="16" dy="-6.9">-13</tspan></text>
<text x="346.2" y="463" text-anchor="middle">10<tspan font-size="16" dy="-6.9">-12</tspan></text>
<text x="431.2" y="463" text-anchor="middle">10<tspan font-size="16" dy="-6.9">-11</tspan></text>
</g>
<text transform="translate(465.9,486.8) scale(1.055,1)" font-size="27.5">t(s)</text>
<g font-size="33">
<text transform="translate(24.3,217.4) rotate(-90)">φ</text>
<text transform="translate(32,198.3) rotate(-90)" font-size="25" letter-spacing="1">self</text>
<text transform="translate(24.3,153.5) rotate(-90)">(t)/</text>
<text transform="translate(24.3,112.9) rotate(-90)">φ</text>
<text transform="translate(32.5,90.6) rotate(-90)" font-size="25" letter-spacing="1">self</text>
<text transform="translate(24.3,49.4) rotate(-90)">(0)</text>
</g>
<g font-size="19">
<text x="164.5" y="316">1<tspan dx="-0.6">/</tspan></text>
<text transform="translate(181.0,316) scale(1.08,1)" font-size="16" font-family="DejaVu Math TeX Gyre">ω</text>
<text x="196.4" y="321.5" font-size="14.5">0</text>
<text x="215.7" y="317.5">1<tspan dx="-0.5">/</tspan></text>
<text transform="translate(234,318) scale(1.18,1)" font-size="21" font-family="Liberation Serif" font-style="italic">Γ</text>
<text x="292.4" y="314.6" font-family="DejaVu Math TeX Gyre" style="stroke-width:0.5px">τ</text>
<text x="303.8" y="319.7" font-size="14.5">0</text>
<text x="379.8" y="313.9" font-family="DejaVu Math TeX Gyre" style="stroke-width:0.5px">τ</text>
<text x="390.4" y="319" font-size="15.2">self</text>
</g>
</svg>
</body></html>
